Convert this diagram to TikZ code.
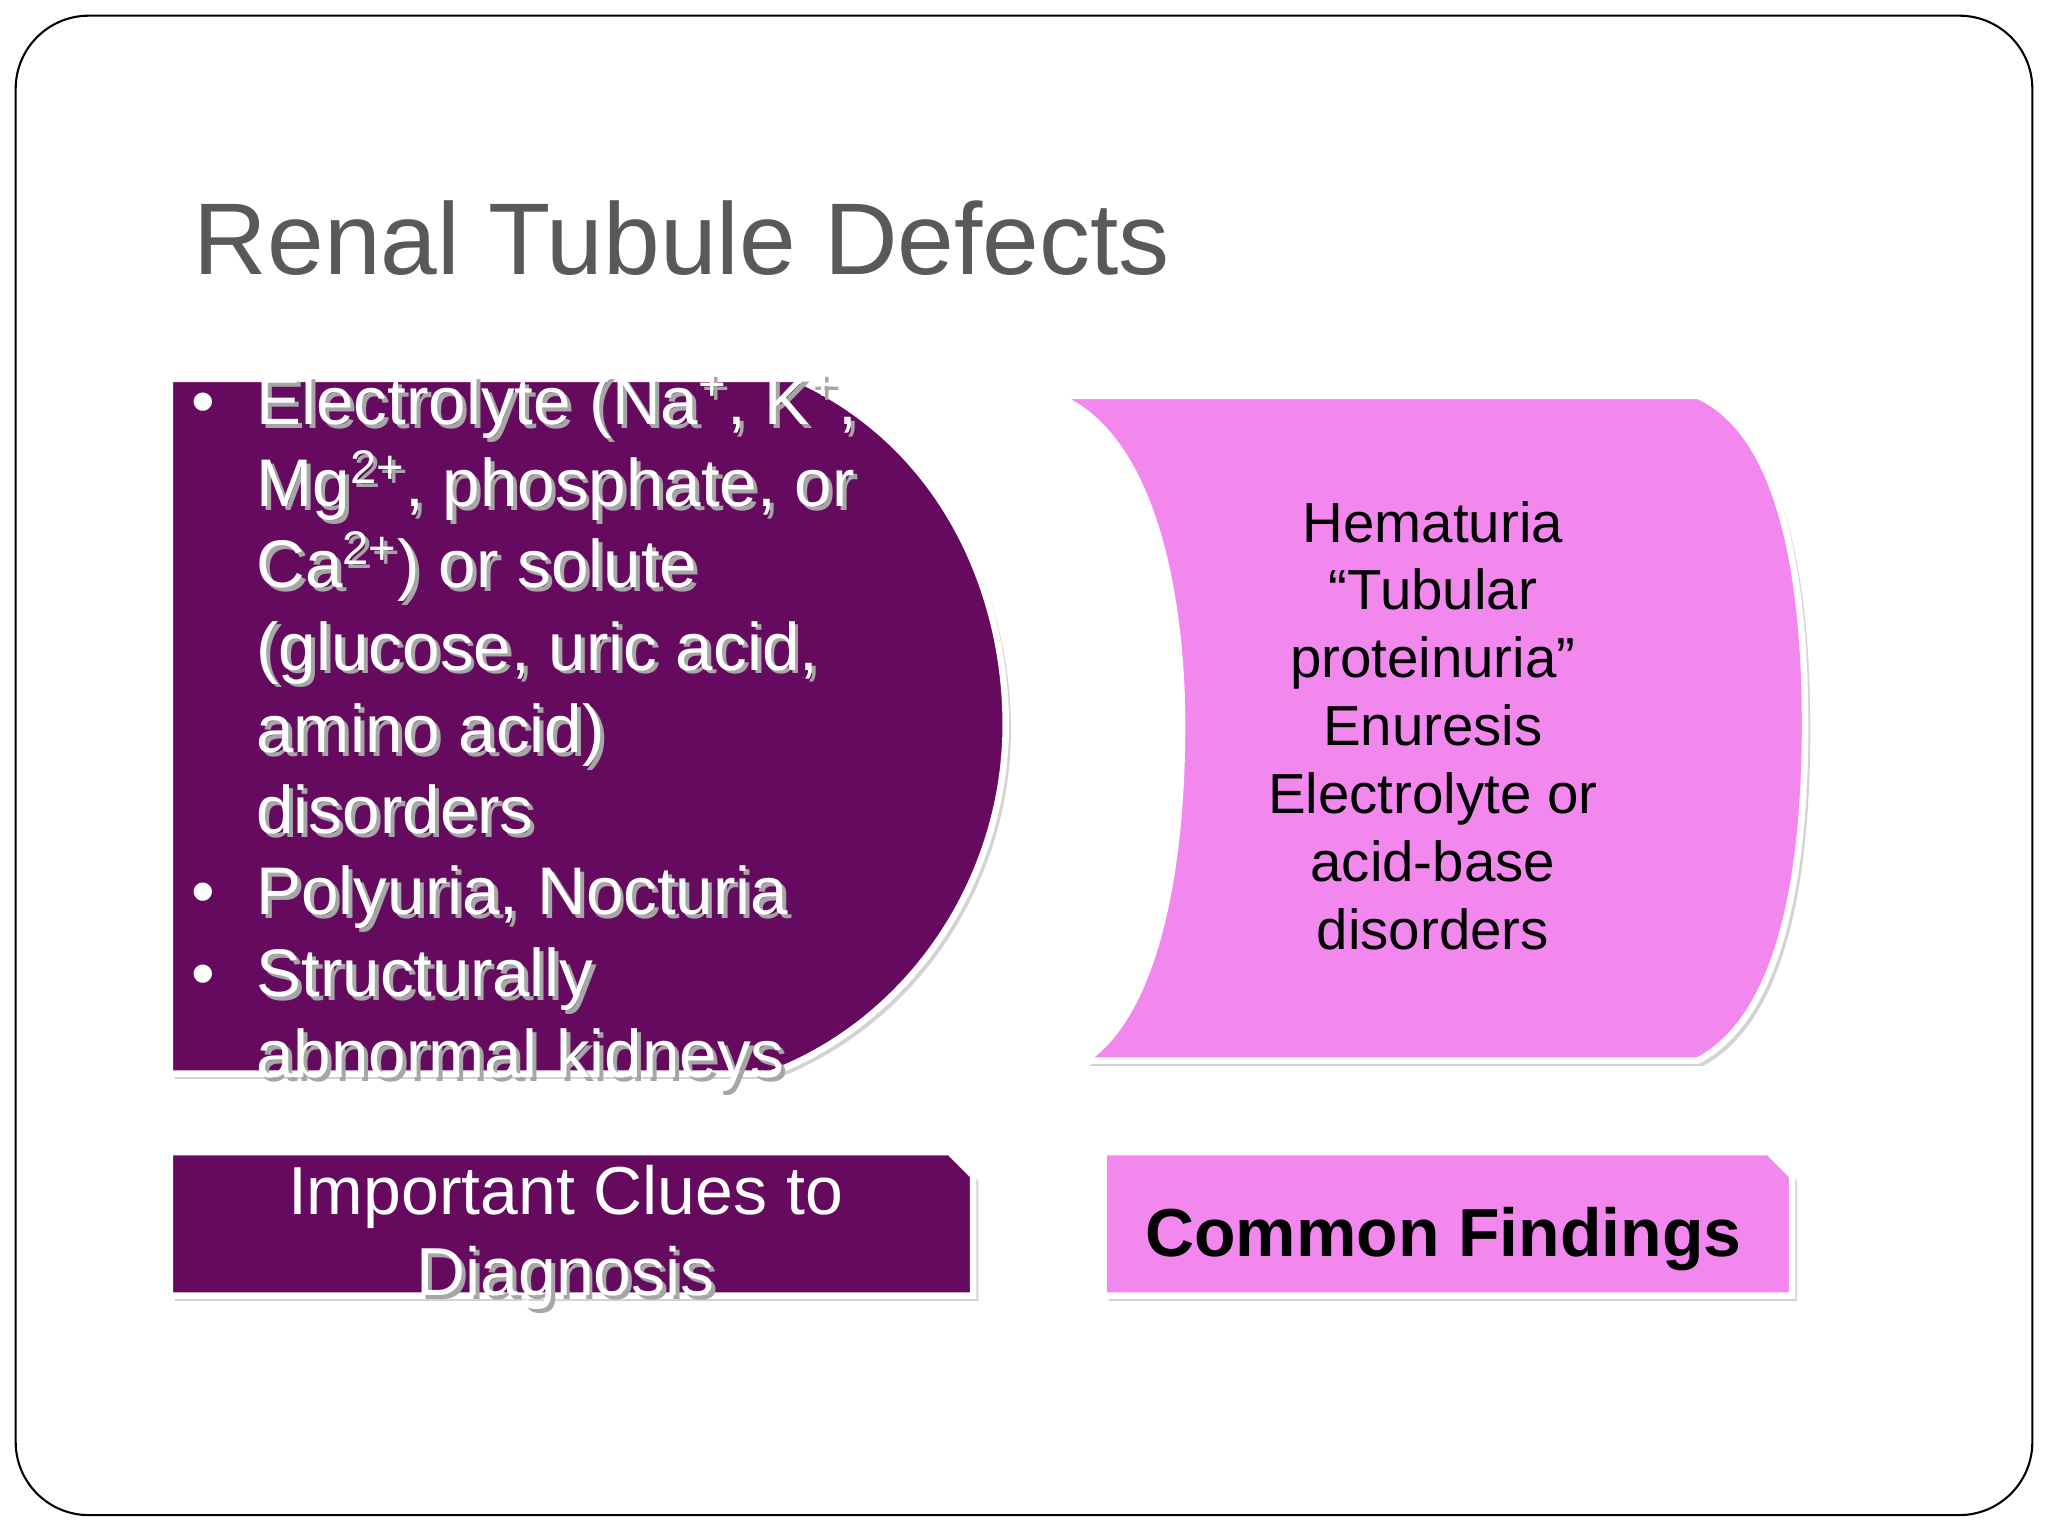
\documentclass[tikz,border=0pt]{standalone}
\usepackage{fontspec}
\setmainfont{Liberation Sans}
\usetikzlibrary{shadows}
\definecolor{dpurple}{HTML}{650A5E}
\definecolor{lpink}{HTML}{F287EE}
\definecolor{tgray}{HTML}{595959}
\tikzset{
 shp/.style={draw=white,line width=2.5,drop shadow={shadow xshift=2pt,shadow yshift=-2pt,opacity=0.35}},
 lt/.style={anchor=base west,text=white,font=\fontsize{25.8}{30}\selectfont,inner sep=0},
 ltsh/.style={lt,text=black!35},
 rt/.style={anchor=base,text=black,font=\fontsize{21.6}{25}\selectfont,inner sep=0},
}
\begin{document}
\begin{tikzpicture}[x=0.5pt,y=0.5pt]
\useasboundingbox (0,0) rectangle (1568,-1176);
\draw[black,line width=0.8,rounded corners=28pt] (12,-12) rectangle (1556,-1160);
\node[anchor=base west,text=tgray,font=\fontsize{39}{46}\selectfont,inner sep=0] (title) at (148,-210) {Renal Tubule Defects};
% left shape
\path[shp,fill=dpurple] (130,-290) -- (610,-290) .. controls (720,-340) and (770,-450) .. (770,-555) .. controls (770,-670) and (700,-780) .. (590,-822) -- (130,-822) -- cycle;
\foreach \t/\y in {{Electrolyte (Na\textsuperscript{+}, K\textsuperscript{+},}/325,{Mg\textsuperscript{2+}, phosphate, or}/388,{Ca\textsuperscript{2+}) or solute}/450,{(glucose, uric acid,}/513,{amino acid)}/576,{disorders}/638,{Polyuria, Nocturia}/700,{Structurally}/763,{abnormal kidneys}/825}
  {\node[ltsh] at (199,-\y-3) {\t};
   \node[lt] at (196,-\y) {\t};}
\foreach \y in {325,700,763} \node[lt] at (146,-\y) {•};
% right shape
\path[shp,fill=lpink] (808,-303) .. controls (880,-330) and (905,-450) .. (905,-555) .. controls (905,-680) and (880,-780) .. (830,-812) -- (1300,-812) .. controls (1360,-780) and (1382,-680) .. (1382,-555) .. controls (1382,-430) and (1360,-330) .. (1300,-303) -- cycle;
\foreach \t/\y in {Hematuria/415,{``Tubular}/467,{proteinuria''}/519,Enuresis/571,{Electrolyte or}/623,{acid-base}/675,disorders/727}
  \node[rt] at (1097,-\y) {\t};
% bottom boxes
\path[shp,fill=dpurple] (130,-882) -- (727,-882) -- (745,-900) -- (745,-992) -- (130,-992) -- cycle;
\node[anchor=base,text=white,font=\fontsize{26}{30}\selectfont,inner sep=0] (b1) at (433,-930) {Important Clues to};
\node[anchor=base,text=black!35,font=\fontsize{26}{30}\selectfont,inner sep=0] at (436,-995) {Diagnosis};
\node[anchor=base,text=white,font=\fontsize{26}{30}\selectfont,inner sep=0] (b2) at (433,-992) {Diagnosis};
\path[shp,fill=lpink] (845,-882) -- (1354,-882) -- (1372,-900) -- (1372,-992) -- (845,-992) -- cycle;
\node[anchor=base,text=black,font=\bfseries\fontsize{26}{30}\selectfont,inner sep=0] (b3) at (1105,-962) {Common Findings};
\end{tikzpicture}
\end{document}
